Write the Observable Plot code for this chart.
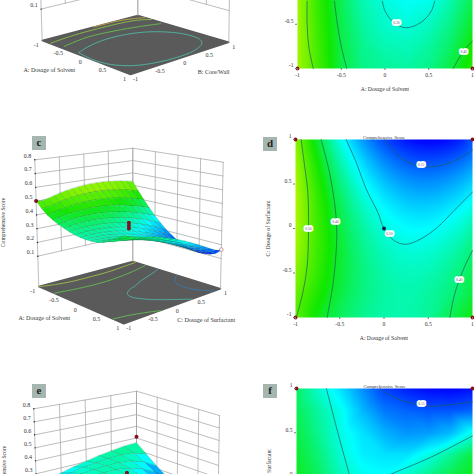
<!DOCTYPE html>
<html><head><meta charset="utf-8">
<script src="https://cdn.jsdelivr.net/npm/d3@7"></script>
<script src="https://cdn.jsdelivr.net/npm/@observablehq/plot@0.6"></script>
<style>
html,body{margin:0;padding:0;background:#fff;width:474px;height:474px;overflow:hidden}
#stage{position:relative;width:474px;height:474px;overflow:hidden}
#stage svg{position:absolute;background:transparent;font-family:"Liberation Serif",serif}
.badge{position:absolute;width:14px;height:14px;background:#a5b5af;color:#222;font:bold 11px/13px "Liberation Serif",serif;text-align:center}
</style></head><body><div id="stage"></div>
<script>
// ---------- values ----------
const unitTicks = [-1, -0.5, 0, 0.5, 1];
const scoreTicks = [0.1, 0.2, 0.3, 0.4, 0.5, 0.6, 0.7, 0.8];
const gridSteps = [-1, -0.75, -0.5, -0.25, 0, 0.25, 0.5, 0.75, 1];
const fineSteps = [-1,-.875,-.75,-.625,-.5,-.375,-.25,-.125,0,.125,.25,.375,.5,.625,.75,.875,1];

// A: Dosage of Solvent (columns) x C: Dosage of Surfactant (rows, -1 .. 1)
const scoreAC = [
  [.50,.455,.42,.395,.375,.36,.346,.336,.33,.327,.328,.331,.34,.36,.38,.40,.42],
  [.495,.457,.428,.404,.383,.365,.351,.34,.333,.329,.328,.331,.338,.348,.372,.387,.408],
  [.504,.47,.44,.413,.39,.371,.355,.343,.334,.329,.327,.329,.336,.345,.358,.373,.394],
  [.518,.482,.449,.421,.396,.375,.357,.343,.333,.327,.324,.325,.331,.339,.352,.367,.388],
  [.53,.492,.457,.426,.399,.376,.357,.342,.33,.323,.319,.319,.324,.332,.345,.36,.38],
  [.54,.499,.462,.429,.40,.376,.355,.338,.325,.316,.312,.311,.315,.323,.335,.35,.37],
  [.549,.506,.466,.432,.401,.374,.351,.333,.319,.309,.303,.302,.306,.313,.324,.339,.359],
  [.555,.509,.468,.431,.398,.37,.345,.326,.31,.299,.292,.29,.293,.299,.311,.325,.345],
  [.56,.512,.468,.429,.394,.364,.338,.317,.30,.288,.28,.277,.279,.285,.296,.31,.33],
  [.563,.513,.466,.425,.388,.357,.329,.306,.288,.275,.266,.262,.263,.269,.279,.293,.313],
  [.564,.511,.463,.42,.381,.347,.318,.294,.274,.26,.25,.245,.246,.251,.261,.274,.294],
  [.563,.508,.457,.412,.371,.336,.304,.279,.258,.243,.231,.226,.226,.23,.24,.253,.273],
  [.56,.502,.45,.402,.359,.322,.289,.263,.24,.224,.211,.205,.204,.208,.217,.23,.25],
  [.555,.495,.44,.39,.345,.307,.272,.244,.22,.202,.189,.182,.18,.184,.193,.206,.225],
  [.549,.487,.429,.378,.33,.29,.254,.224,.199,.18,.166,.158,.156,.159,.167,.18,.199],
  [.54,.475,.416,.362,.313,.271,.233,.202,.175,.155,.14,.131,.128,.13,.138,.151,.175],
  [.53,.463,.401,.345,.294,.25,.21,.178,.15,.129,.113,.103,.099,.101,.109,.125,.16]
];
// A x B: Core/Wall (rows -1 .. 0), the visible part of panel b
const scoreABrows = [-1, -0.75, -0.5, -0.25, 0];
const scoreAB = [
  [.55,.47,.39,.35,.34,.335,.35,.39,.45],
  [.55,.465,.39,.345,.325,.32,.335,.37,.43],
  [.55,.46,.385,.335,.31,.30,.315,.35,.405],
  [.55,.455,.38,.325,.30,.285,.29,.33,.385],
  [.55,.45,.375,.32,.285,.27,.28,.315,.37]
];
// B x C (rows 1 .. -0.25), the visible part of panel f
const scoreBCrows = [1, 0.75, 0.5, 0.25, 0, -0.25];
const scoreBC = [
  [.37,.31,.26,.2,.145,.12,.105,.1,.11],
  [.38,.335,.29,.23,.185,.17,.16,.16,.17],
  [.39,.345,.295,.26,.225,.205,.21,.23,.29],
  [.4,.36,.305,.27,.26,.26,.295,.34,.39],
  [.41,.375,.32,.29,.285,.315,.35,.385,.41],
  [.42,.385,.35,.32,.31,.35,.4,.45,.5]
];
// height of the surface in panel e: rows are first-axis steps, columns are -1 .. 1 on the second axis
const surfaceErows = [-1, -0.75, -0.5, -0.25, 0, 0.25];
const surfaceE = [
  [.21,.235,.26,.285,.305,.325,.34,.355,.36],
  [.25,.27,.29,.31,.32,.33,.335,.325,.29],
  [.28,.295,.31,.32,.325,.325,.315,.28,.22],
  [.30,.31,.32,.325,.325,.31,.28,.23,.16],
  [.31,.315,.32,.32,.31,.285,.24,.18,.12],
  [.31,.315,.315,.30,.285,.25,.20,.14,.09]
];

// contour lines [factor 1, factor 2]
const contourD50 = [[-.99,-1],[-.917,-.718],[-.868,-.417],[-.853,0],[-.861,.41],[-.898,.71],[-.936,1]];
const contourD40 = [[-.643,-1],[-.579,-.643],[-.541,-.267],[-.534,0],[-.56,.297],[-.617,.635],[-.711,1]];
const contourD30 = [[-.429,1],[-.316,.748],[-.203,.447],[-.071,.184],[0,0],[.113,-.135],[.244,-.177],[.417,-.117],[.605,.015],[.793,.203],[1,.41]];
const contourD40r = [[.744,-1],[.793,-.756],[.85,-.579],[.925,-.398],[1,-.248]];
const contourD15 = [[.004,1],[.154,.823],[.305,.729],[.492,.692],[.68,.718],[.85,.786],[1,.88]];
const labelsD = [[-.853,0,"0.50"],[-.55,.07,"0.40"],[.06,-.06,"0.30"],[.42,.71,"0.15"],[.85,-.58,"0.40"]];

const contourB50 = [[-.82,-1],[-.87,-.76],[-.89,-.5],[-.89,-.24]];
const contourB40 = [[-.437,-1],[-.5,-.75],[-.544,-.5],[-.578,-.24]];
const contourB30 = [[-.03,-.24],[-.0,-.35],[.1,-.48],[.236,-.54],[.41,-.48],[.53,-.35],[.567,-.24]];
const contourB40r = [[.78,-1],[.9,-.8],[1,-.69]];
const labelsB = [[.13,-.48,"0.30"],[.9,-.81,"0.40"]];

const contourF30l = [[-.66,1],[-.53,.5],[-.4,.025],[-.37,-.1]];
const contourF30r = [[1,.465],[.52,.22],[.07,.03],[-.05,-.03]];
const contourF15 = [[-.05,1],[.1,.9],[.29,.84],[.52,.8],[.78,.82],[1,.85]];
const labelsF = [[.42,.83,"0.15"]];

const floorA1 = [[-.24,-.94],[-.34,-.67],[-.42,-.32],[-.42,.1],[-.3,.47],[-.06,.72],[.26,.84],[.59,.8],[.75,.68],[.9,.38],[.94,0],[.89,-.36],[.75,-.7],[.47,-.93],[.12,-.99],[-.24,-.94]];
const floorA2 = [[-.59,-.92],[-.69,-.35],[-.65,.17],[-.55,.63],[-.44,.95]];
const floorA3 = [[-.83,-.98],[-.89,-.44],[-.9,.06],[-.84,.77],[-.7,1]];
const floorA4 = [[-1,.08],[-.99,.56],[-.92,.84],[-.84,1]];

const scoreStops = [0.10, 0.28, 0.43, 0.63, 0.8];
const scoreColors = ["#0000ff", "#00ffff", "#10e800", "#ffff00", "#ff0000"];

// camera of each 3-D box: floor and top corners in the order
// (-1,-1) (1,-1) (1,1) (-1,1)
const cameraA = {floor:[[41.7,40],[130,74],[228.3,41.7],[137.3,15]], top:[[37.5,-87],[127,-60],[230,-86],[137.3,-106]], z0:-.13, z1:.8};
const cameraC = {floor:[[38.3,161],[123.3,198.3],[220,163.3],[132.3,136]], top:[[34.3,34.3],[124,49],[222.7,36.7],[132.3,22.7]], z0:-.12, z1:.8};
const cameraE = {floor:[[37.3,168],[116,200.6],[217,170],[136,138.3]], top:[[33.3,48.3],[117,76.6],[219,55],[136,30.7]], z0:-.12, z1:.8};

// ---------- helpers ----------
const stage = document.getElementById("stage");
const color = {type:"linear", domain:scoreStops, range:scoreColors, clamp:true};
const ink = "#333";
const fontF = "Liberation Serif";

function projector(cam){
  const bl = (pts,s,t)=>[0,1].map(k=>pts[0][k]*(1-s)*(1-t)+pts[1][k]*s*(1-t)+pts[2][k]*s*t+pts[3][k]*(1-s)*t);
  return (a,c,z)=>{
    const s=(a+1)/2,t=(c+1)/2,F=bl(cam.floor,s,t),T=bl(cam.top,s,t),u=((z??cam.z0)-cam.z0)/(cam.z1-cam.z0);
    return [F[0]+(T[0]-F[0])*u,F[1]+(T[1]-F[1])*u];
  };
}
function polyline(id,pts){return pts.map(p=>({id,x:p[0],y:p[1]}));}

function place(svg,left,top){svg.style.left=left+"px";svg.style.top=top+"px";stage.appendChild(svg);}
function badge(letter,left,top){const d=document.createElement("div");d.className="badge";d.textContent=letter;d.style.left=left+"px";d.style.top=top+"px";stage.appendChild(d);}

function box3d({cam,height,top,xLab,yLab,surface,floorLines,markers,zTitle,zTitleAt}){
  const P=projector(cam);
  const walls=[];
  let n=0;
  for(const v of unitTicks){
    const low=v===-1||v===1?cam.z0:.1;
    walls.push(...polyline("w"+n++,[P(-1,v,low),P(-1,v,.8)]));
    walls.push(...polyline("w"+n++,[P(v,1,low),P(v,1,.8)]));
  }
  for(const z of scoreTicks){
    walls.push(...polyline("w"+n++,[P(-1,-1,z),P(-1,1,z),P(1,1,z)]));
  }
  const floor=polyline("f",[P(-1,-1),P(1,-1),P(1,1),P(-1,1)]);
  const fl=floorLines.flatMap((l,i)=>l.pts.map(p=>{const q=P(p[0],p[1]);return {id:i,x:q[0],y:q[1],c:l.color};}));
  const quads=[];
  if(surface){
    const {as,cs,values}=surface;
    for(let ci=cs.length-2;ci>=0;ci--){
      for(let ai=0;ai<as.length-1;ai++){
        const corners=[[ai,ci],[ai+1,ci],[ai+1,ci+1],[ai,ci+1]];
        const v=d3.mean(corners,([i,j])=>values[j][i]);
        for(const [i,j] of corners){
          const q=P(as[i],cs[j],values[j][i]);
          quads.push({id:ai+"_"+ci,x:q[0],y:q[1],v});
        }
      }
    }
  }
  const vis=d=>d.y>3&&d.y<height-3;
  const zLab=scoreTicks.map(z=>{const q=P(-1,-1,z);return {x:q[0],y:q[1],t:String(z)};}).filter(d=>d.y-4>3&&d.y-4<height-3);
  const aLab=unitTicks.map(v=>{const q=P(v,-1);return {x:q[0],y:q[1],t:String(v)};}).filter(vis);
  const cLab=unitTicks.map(v=>{const q=P(1,v);return {x:q[0],y:q[1],t:String(v)};}).filter(vis);
  const aT=P(0,-1),cT=P(1,0);
  const mk=markers.map(m=>{const q=P(m[0],m[1],m[2]);return {x:q[0],y:q[1],o:m[3]};});
  const svg=Plot.plot({
    width:237,height,margin:0,style:{fontFamily:fontF,background:"transparent"},
    x:{domain:[0,237],range:[0,237],axis:null},y:{domain:[0,height],range:[0,height],axis:null},color,
    marks:[
      Plot.line(floor,{x:"x",y:"y",z:"id",fill:"#5a5a5a",stroke:"#5a5a5a",curve:"linear-closed"}),
      Plot.line(fl,{x:"x",y:"y",z:"id",stroke:"c",strokeWidth:.9,curve:"catmull-rom"}),
      Plot.line(walls,{x:"x",y:"y",z:"id",stroke:"#a0a0a0",strokeWidth:.7}),
      Plot.dot(zLab,{x:"x",y:"y",r:.7,fill:"#222"}),
      Plot.text(zLab,{x:"x",y:"y",text:"t",dx:-3.5,dy:-4,textAnchor:"end",fontSize:6,fill:ink}),
      Plot.text(aLab,{x:"x",y:"y",text:"t",dx:-6,dy:4.5,fontSize:6,fill:ink}),
      Plot.text(cLab,{x:"x",y:"y",text:"t",dx:5,dy:4.5,fontSize:6,fill:ink}),
      xLab?Plot.text([xLab],{x:()=>aT[0],y:()=>aT[1],text:d=>d,dx:-37,dy:13,fontSize:6,fill:ink}):null,
      yLab?Plot.text([yLab],{x:()=>cT[0],y:()=>cT[1],text:d=>d,dx:34,dy:14,fontSize:6,fill:ink}):null,
      Plot.line(quads,{x:"x",y:"y",z:"id",fill:"v",stroke:"#0f6e38",strokeOpacity:.6,strokeWidth:.3,curve:"linear-closed"}),
      Plot.dot(mk.filter(m=>!m.o),{x:"x",y:"y",r:2,fill:"#7f1020"}),
      Plot.dot(mk.filter(m=>m.o),{x:"x",y:"y",r:1.8,fill:"#fff",stroke:"#b05060",strokeWidth:.6}),
      zTitle?Plot.text([zTitle],{x:()=>zTitleAt[0],y:()=>zTitleAt[1],text:d=>d,rotate:-90,fontSize:5.6,fill:ink}):null
    ]
  });
  place(svg,0,top);
}

function contourPanel({left,top,plotLeft,plotRight,plotTop,plotBottom,xLab,yLab,yTicks,rows,cols,values,lines,labels,markers,title}){
  const width=474-left,ml=plotLeft-left,mr=474-plotRight,mt=14,mb=33;
  const height=plotBottom-plotTop+mt+mb;
  const pts=rows.flatMap((r,j)=>cols.map((a,i)=>({a,b:r,z:values[j][i]})));
  const cl=lines.flatMap((l,i)=>l.map(p=>({id:i,x:p[0],y:p[1]})));
  const lb=labels.map(l=>({x:l[0],y:l[1],t:l[2]}));
  const svg=Plot.plot({
    width,height,marginLeft:ml,marginRight:mr,marginTop:mt,marginBottom:mb,
    style:{fontFamily:fontF,background:"transparent",overflow:"hidden"},
    x:{domain:[-1,1]},y:{domain:[-1,1]},color,
    marks:[
      Plot.raster(pts,{x:"a",y:"b",fill:"z",interpolate:"barycentric",pixelSize:1}),
      Plot.line(cl,{x:"x",y:"y",z:"id",stroke:"#1d5f5c",strokeWidth:.7,curve:"catmull-rom"}),
      Plot.text(lb,{x:"x",y:"y",text:"t",fontSize:3.6,fill:"#557",stroke:"#fff",strokeWidth:3.6,paintOrder:"stroke"}),
      Plot.dot(markers,{x:d=>d[0],y:d=>d[1],r:1.9,fill:d=>d[2]}),
      xLab?Plot.axisX({ticks:unitTicks,tickFormat:d=>String(d),tickSize:2,fontSize:5.6,tickPadding:3,stroke:"#777",fill:ink,label:xLab,labelAnchor:"center",labelArrow:"none",labelOffset:22}):Plot.axisX({ticks:[]}),
      Plot.axisY({ticks:yTicks,tickFormat:()=>"",tickSize:2,stroke:"#777",label:yLab,fill:ink,labelAnchor:"center",labelArrow:"none",labelOffset:30,fontSize:5.8}),
      Plot.text(yTicks,{x:()=>-1,y:d=>d,text:d=>String(d),dx:-4,dy:-3,textAnchor:"end",fontSize:5.6,fill:ink}),
      title?Plot.text([title],{frameAnchor:"top",dy:-4,fontSize:4.8,fill:ink}):null
    ]
  });
  place(svg,left,top);
}

// ---------- panels ----------
const red="#8b1018";
const titleScore="Comprehensive Score";
contourPanel({left:237,top:-123,plotLeft:297,plotRight:472,plotTop:-109,plotBottom:68,
  xLab:"A: Dosage of Solvent",yLab:null,yTicks:[-1,-0.5],rows:scoreABrows,cols:gridSteps,values:scoreAB,
  lines:[contourB50,contourB40,contourB30,contourB40r],labels:labelsB,
  markers:[[-1,-1,red],[1,-1,red]]});
contourPanel({left:237,top:125,plotLeft:295,plotRight:472,plotTop:139,plotBottom:317,
  xLab:"A: Dosage of Solvent",yLab:"C: Dosage of Surfactant",yTicks:unitTicks,rows:fineSteps,cols:fineSteps,values:scoreAC,
  lines:[contourD50,contourD40,contourD30,contourD40r,contourD15],labels:labelsD,
  markers:[[-1,-1,red],[1,-1,red],[-1,1,red],[1,1,red],[0,0,"#10204a"]],title:titleScore});
contourPanel({left:237,top:374,plotLeft:296,plotRight:472,plotTop:388,plotBottom:565,
  xLab:null,yLab:"C: Dosage of Surfactant",yTicks:[1,0.5,0],rows:scoreBCrows,cols:gridSteps,values:scoreBC,
  lines:[contourF30l,contourF30r,contourF15],labels:labelsF,
  markers:[[-1,1,red],[1,1,red]],title:titleScore});

box3d({cam:cameraA,height:100,top:0,xLab:"A: Dosage of Solvent",yLab:"B: Core/Wall",
  floorLines:[{pts:floorA4,color:"#c0a848"},{pts:floorA3,color:"#8cc048"},{pts:floorA2,color:"#66c050"},{pts:floorA1,color:"#4fb8a4"}],
  markers:[]});
box3d({cam:cameraC,height:220,top:125,xLab:"A: Dosage of Solvent",yLab:"C: Dosage of Surfactant",
  surface:{as:fineSteps,cs:fineSteps,values:scoreAC},
  floorLines:[{pts:contourD50,color:"#a0c048"},{pts:contourD40,color:"#60c050"},{pts:contourD40r,color:"#60c050"},{pts:contourD30,color:"#50b0a0"},{pts:contourD15,color:"#3a78a8"}],
  markers:[[-1,-1,.50],[0,0,.32],[0,0,.34],[0,0,.36],[1,1,.165,true]],
  zTitle:titleScore,zTitleAt:[3,97]});
box3d({cam:cameraE,height:114,top:360,xLab:"",yLab:"",
  surface:{as:surfaceErows,cs:gridSteps,values:d3.transpose(surfaceE)},
  floorLines:[],
  markers:[[-1,1,.41],[0,0,.33]],
  zTitle:titleScore,zTitleAt:[4,110]});

badge("c",32,136);badge("d",263,137);badge("e",32,384);badge("f",263,384);
</script></body></html>
